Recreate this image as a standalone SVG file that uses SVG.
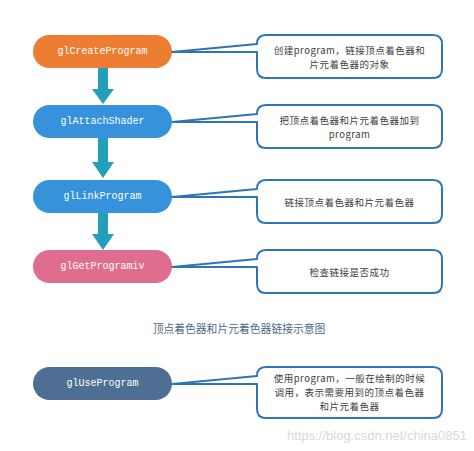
<svg xmlns="http://www.w3.org/2000/svg" width="474" height="451" viewBox="0 0 474 451">
<defs>
<style>
.pill-t{font-family:"Liberation Mono","DejaVu Sans Mono",monospace;font-size:10px;fill:#fff;text-anchor:middle;dominant-baseline:central}
.co{fill:#fff;stroke:#2e75b6;stroke-width:2;stroke-linejoin:round}
.co-t{font-family:"Noto Sans CJK SC","Liberation Sans",sans-serif;font-size:9.5px;letter-spacing:0.5px;fill:#404040;text-anchor:middle;dominant-baseline:central}
.arr{fill:#22a0b9}
</style>
</defs>
<rect width="474" height="451" fill="#fff"/>
<g id="connectors">
<path class="arr" d="M98 68 H108 V89 H114 L103 104 L92 89 H98 Z"/>
<path class="arr" d="M98 138 H108 V162 H114 L103 178 L92 162 H98 Z"/>
<path class="arr" d="M98 213 H108 V234 H114 L103 250 L92 234 H98 Z"/>
</g>
<g id="glCreateProgram">
<rect x="33" y="35" width="139" height="33" rx="16.5" fill="#ed7d31"/>
<text class="pill-t" x="102.5" y="51.5">glCreateProgram</text>
</g>
<g id="glAttachShader">
<rect x="33" y="105" width="139" height="33" rx="16.5" fill="#3592db"/>
<text class="pill-t" x="102.5" y="121.5">glAttachShader</text>
</g>
<g id="glLinkProgram">
<rect x="33" y="180" width="139" height="33" rx="16.5" fill="#3592db"/>
<text class="pill-t" x="102.5" y="196.5">glLinkProgram</text>
</g>
<g id="glGetProgramiv">
<rect x="33" y="250" width="139" height="33" rx="16.5" fill="#df6d8f"/>
<text class="pill-t" x="102.5" y="266.5">glGetProgramiv</text>
</g>
<g id="glUseProgram">
<rect x="33" y="367" width="139" height="33" rx="16.5" fill="#4e6e93"/>
<text class="pill-t" x="102.5" y="383.5">glUseProgram</text>
</g>
<g id="note1">
<path class="co" d="M266 35 H433 Q442 35 442 44 V69 Q442 78 433 78 H266 Q257 78 257 69 V52 L172 52 L257 44 Q257 35 266 35 Z"/>
<text class="co-t"><tspan x="349.5" y="49.5">创建program，链接顶点着色器和</tspan><tspan x="349.5" y="63.5">片元着色器的对象</tspan></text>
</g>
<g id="note2">
<path class="co" d="M266 105 H433 Q442 105 442 114 V139 Q442 148 433 148 H266 Q257 148 257 139 V122 L172 122 L257 114 V114 Q257 105 266 105 Z"/>
<text class="co-t"><tspan x="349.5" y="119.5">把顶点着色器和片元着色器加到</tspan><tspan x="349.5" y="133.5">program</tspan></text>
</g>
<g id="note3">
<path class="co" d="M266 180 H433 Q442 180 442 189 V214 Q442 223 433 223 H266 Q257 223 257 214 V197 L172 197 L257 189 Q257 180 266 180 Z"/>
<text class="co-t" x="349.5" y="202">链接顶点着色器和片元着色器</text>
</g>
<g id="note4">
<path class="co" d="M266 250 H433 Q442 250 442 259 V284 Q442 293 433 293 H266 Q257 293 257 284 V267 L172 267 L257 259 Q257 250 266 250 Z"/>
<text class="co-t" x="349.5" y="272">检查链接是否成功</text>
</g>
<g id="caption">
<text x="239" y="328" style="font-family:'Noto Sans CJK SC',sans-serif;font-size:10.8px;fill:#4d6a86;text-anchor:middle;dominant-baseline:central">顶点着色器和片元着色器链接示意图</text>
</g>
<g id="note5">
<path class="co" d="M266 367 H433 Q442 367 442 376 V409 Q442 418 433 418 H266 Q257 418 257 409 V384 L172 384 L257 376 Q257 367 266 367 Z"/>
<text class="co-t"><tspan x="349.5" y="378">使用program，一般在绘制的时候</tspan><tspan x="349.5" y="392">调用，表示需要用到的顶点着色器</tspan><tspan x="349.5" y="406">和片元着色器</tspan></text>
</g>
<text x="377" y="435" style="font-family:'Liberation Sans',sans-serif;font-size:13px;fill:#d8d8d8;text-anchor:middle;dominant-baseline:central">https://blog.csdn.net/china0851</text>
</svg>
